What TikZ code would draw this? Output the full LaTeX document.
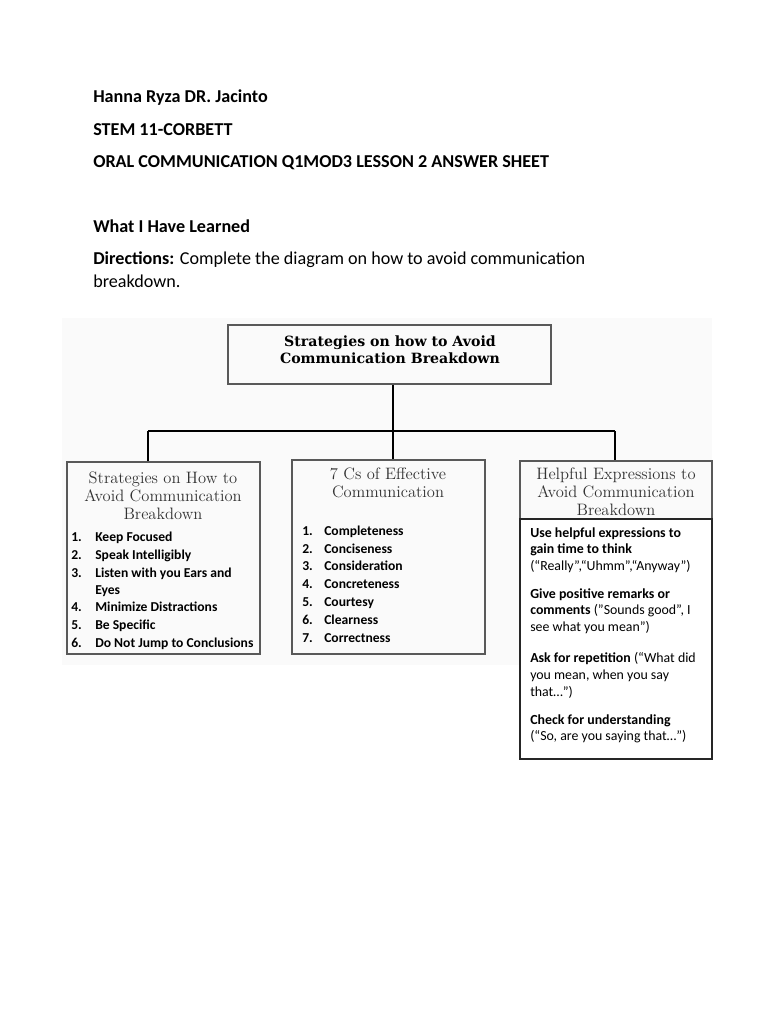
\documentclass[tikz,border=0pt]{standalone}
\usepackage{fontspec}
\setsansfont{Carlito}
\newfontfamily\topserif{DejaVu Serif}
\usetikzlibrary{fit}

\begin{document}
\begin{tikzpicture}[x=0.75pt,y=-0.75pt,
    box/.style={draw=black!65, line width=0.9pt, inner sep=0pt},
    conn/.style={line width=1.6pt},
    pg/.style={font=\sffamily\bfseries\fontsize{13.6}{16}\selectfont, anchor=base west, inner sep=0pt},
    hd/.style={font=\fontsize{12.4}{13.5}\selectfont, text=black!80, align=center, inner sep=0pt},
    item/.style={font=\sffamily\bfseries\fontsize{10.2}{13}\selectfont, anchor=base west, inner sep=0pt},
    para/.style={font=\sffamily\fontsize{10.4}{12.7}\selectfont, anchor=north west, align=left, inner sep=0pt}]
    \useasboundingbox (0,0) rectangle (768,1024);
    % the pasted picture has a faint grey ground
    \fill[black!2] (62,318) rectangle (712,665);

    % page header
    \node[pg] (name) at (93,103) {Hanna Ryza DR. Jacinto};
    \node[pg] (sect) at (93,135) {STEM 11-CORBETT};
    \node[pg] (subj) at (93,167) {ORAL COMMUNICATION Q1MOD3 LESSON 2 ANSWER SHEET};
    \node[pg] (lrnd) at (93,232) {What I Have Learned};
    \node[pg] (dirs) at (93,264) {Directions: \mdseries Complete the diagram on how to avoid communication};
    \node[pg] (dirs2) at (93,287) {\mdseries breakdown.};

    % boxes with absolute coordinates
    \node[box, fit={(228,325) (551,384)}] (top) {};
    \node[box, fit={(67,462) (260,654)}] (left) {};
    \node[box, fit={(292,460) (485,654)}] (mid) {};
    \node[box, fit={(520,461) (712,519)}] (rhead) {};
    \node[box, draw=black!85, fill=white, fit={(520,519) (712,759)}] (right) {};

    % tree connectors
    \coordinate (barL) at (148,431);
    \coordinate (barM) at (393,431);
    \coordinate (barR) at (615,431);
    \draw[conn] (barM |- top.south) -- (barM);
    \draw[conn] (barL) -- (barR);
    \draw[conn] (barL) -- (barL |- left.north);
    \draw[conn] (barM) -- (barM |- mid.north);
    \draw[conn] (barR) -- (barR |- rhead.north);

    % box titles
    \node[font=\topserif\bfseries\fontsize{10.6}{12.8}\selectfont, align=center] (toptxt) at (390,350) {Strategies on how to Avoid\\Communication Breakdown};
    \node[hd] (lhd) at (163,496) {Strategies on How to\\Avoid Communication\\Breakdown};
    \node[hd] (mhd) at (388,483) {7 Cs of Effective\\Communication};
    \node[hd] (rhd) at (616,492) {Helpful Expressions to\\Avoid Communication\\Breakdown};

    % left list
    \foreach \y/\n in {541/1., 559/2., 577/3., 611/4., 629/5., 647/6.}
      \node[item] (l\y) at (71,\y) {\n};
    \foreach \y/\t in {541/Keep Focused, 559/Speak Intelligibly,
        577/Listen with you Ears and, 594/Eyes, 611/Minimize Distractions,
        629/Be Specific, 647/Do Not Jump to Conclusions}
      \node[item] (lt\y) at (95,\y) {\t};

    % middle list
    \foreach \t [count=\i] in {Completeness, Conciseness, Consideration,
        Concreteness, Courtesy, Clearness, Correctness} {
      \node[item] (m\i) at (302,517.5+17.8*\i) {\i.};
      \node[item] (mt\i) at (324,517.5+17.8*\i) {\t};
    }

    % right paragraphs
    \node[para] (p1) at (530,527) {\bfseries Use helpful expressions to\\\bfseries gain time to think\\(“Really”,“Uhmm”,“Anyway”)};
    \node[para] (p2) at (530,588) {\bfseries Give positive remarks or\\\textbf{comments} (”Sounds good”, I\\see what you mean”)};
    \node[para] (p3) at (530,652) {\textbf{Ask for repetition} (“What did\\you mean, when you say\\that…”)};
    \node[para] (p4) at (530,714) {\bfseries Check for understanding\\(“So, are you saying that…”)};
\end{tikzpicture}
\end{document}
